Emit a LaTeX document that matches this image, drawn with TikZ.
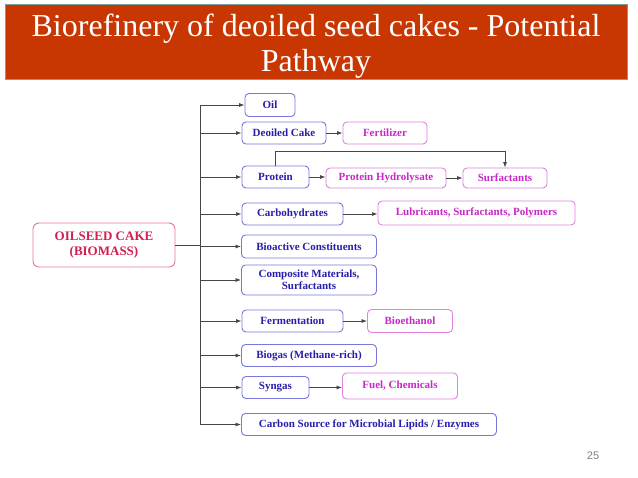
\documentclass[tikz,border=0pt]{standalone}
\usepackage{fontspec}
\setmainfont{Liberation Serif}
\setsansfont{Liberation Sans}
\usetikzlibrary{arrows.meta}
\definecolor{titlered}{RGB}{200,54,2}
\definecolor{titleborder}{RGB}{120,160,150}
\definecolor{bluetext}{RGB}{40,30,170}
\definecolor{blueborder}{RGB}{120,120,220}
\definecolor{pinktext}{RGB}{200,40,200}
\definecolor{pinkborder}{RGB}{225,130,225}
\definecolor{roottext}{RGB}{210,30,80}
\definecolor{rootborder}{RGB}{230,120,150}
\definecolor{linegray}{RGB}{70,70,70}
\tikzset{
  bbox/.style={draw=blueborder, line width=0.9pt, rounded corners=4pt, text=bluetext,
    font=\fontsize{11}{12}\selectfont\bfseries, inner sep=0pt, align=center},
  pbox/.style={draw=pinkborder, line width=0.9pt, rounded corners=4pt, text=pinktext,
    font=\fontsize{11}{12}\selectfont\bfseries, inner sep=0pt, align=center},
  rbox/.style={draw=rootborder, line width=0.9pt, rounded corners=6pt, text=roottext,
    font=\fontsize{13}{15}\selectfont\bfseries, inner sep=0pt, align=center},
  conn/.style={draw=linegray, line width=0.8pt},
  arr/.style={conn, -{Latex[length=5.5pt,width=4pt]}}
}
\begin{document}
\begin{tikzpicture}[x=1pt,y=-1pt]
\useasboundingbox (0,0) rectangle (638,478);
\fill[white] (0,0) rectangle (638,478);
% title
\node[draw=titleborder, line width=0.8pt, fill=titlered, minimum width=622pt, minimum height=75pt,
  inner sep=0pt] (title) at (316,41.5) {};
\node[text=white, align=center, inner sep=0pt, font=\fontsize{32}{35}\selectfont] (titletext) at (316,46)
  {Biorefinery of deoiled seed cakes - Potential\\Pathway};
% root
\node[rbox, minimum width=142pt, minimum height=44pt] (root) at (104,245) {OILSEED CAKE\\(BIOMASS)};
% branch nodes
\node[bbox, minimum width=50pt, minimum height=23pt] (oil) at (270,105) {Oil};
\node[bbox, minimum width=84pt, minimum height=22pt] (deoil) at (284,133) {Deoiled Cake};
\node[pbox, minimum width=84pt, minimum height=22pt] (fert) at (385,133) {Fertilizer};
\node[bbox, minimum width=67pt, minimum height=22pt] (prot) at (275.5,177) {Protein};
\node[pbox, minimum width=120pt, minimum height=20pt] (hydro) at (386,178) {Protein Hydrolysate};
\node[pbox, minimum width=84pt, minimum height=20pt] (surf) at (505,178) {Surfactants};
\node[bbox, minimum width=101pt, minimum height=22pt] (carb) at (292.5,214) {Carbohydrates};
\node[pbox, minimum width=197pt, minimum height=24pt] (lub) at (476.5,213) {Lubricants, Surfactants, Polymers};
\node[bbox, minimum width=135pt, minimum height=23pt] (bioact) at (309,246.5) {Bioactive Constituents};
\node[bbox, minimum width=135pt, minimum height=30pt] (comp) at (309,280) {Composite Materials,\\Surfactants};
\node[bbox, minimum width=101pt, minimum height=22pt] (ferm) at (292.5,321) {Fermentation};
\node[pbox, minimum width=85pt, minimum height=23pt] (ethanol) at (410,321) {Bioethanol};
\node[bbox, minimum width=135pt, minimum height=22pt] (biogas) at (309,355.5) {Biogas (Methane-rich)};
\node[bbox, minimum width=67pt, minimum height=22pt] (syngas) at (275.5,387.5) {Syngas};
\node[pbox, minimum width=115pt, minimum height=26pt] (fuel) at (400,386) {Fuel, Chemicals};
\node[bbox, minimum width=255pt, minimum height=22pt] (carbon) at (369,424.5) {Carbon Source for Microbial Lipids / Enzymes};
% trunk
\coordinate (trunk) at (200,245);
\draw[conn] (root.east) -- (trunk);
\draw[conn] (trunk |- oil.west) -- (trunk |- carbon.west);
\foreach \n in {oil,deoil,prot,carb,bioact,comp,ferm,biogas,syngas,carbon}{
  \draw[arr] (trunk |- \n.west) -- (\n.west);
}
% secondary
\draw[arr] (deoil.east) -- (fert.west);
\draw[arr] (prot.east) -- (prot.east -| hydro.west);
\draw[arr] (hydro.east) -- (surf.west);
\draw[arr] (carb.east) -- (carb.east -| lub.west);
\draw[arr] (ferm.east) -- (ethanol.west);
\draw[arr] (syngas.east) -- (syngas.east -| fuel.west);
\coordinate (up) at (275.5,151);
\draw[arr] (prot.north) -- (up) -| (surf.north);
% page number
\node[text=gray, font=\sffamily\fontsize{11}{13}\selectfont, inner sep=0pt] (pg) at (593,456) {25};
\end{tikzpicture}
\end{document}
